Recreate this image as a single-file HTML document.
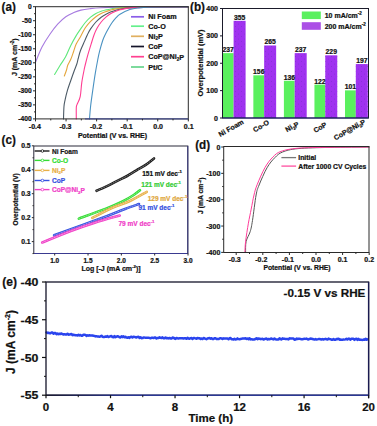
<!DOCTYPE html>
<html><head><meta charset="utf-8"><style>
html,body{margin:0;padding:0;background:#fff;}
svg{display:block;font-family:"Liberation Sans", sans-serif;}
</style></head><body>
<svg width="377" height="426" viewBox="0 0 377 426">
<rect width="377" height="426" fill="#fff"/>
<path d="M35.60,62.00 C36.67,59.50 39.62,51.63 42.00,47.00 C44.38,42.37 47.25,38.05 49.90,34.20 C52.55,30.35 55.25,26.82 57.90,23.90 C60.55,20.98 63.15,18.58 65.80,16.70 C68.45,14.82 71.27,13.70 73.80,12.60 C76.33,11.50 78.30,10.75 81.00,10.10 C83.70,9.45 86.67,9.10 90.00,8.70 C93.33,8.30 96.00,7.97 101.00,7.70 C106.00,7.43 111.83,7.23 120.00,7.10 C128.17,6.97 138.67,6.95 150.00,6.90 C161.33,6.85 181.67,6.82 188.00,6.80" fill="none" stroke="#a77be0" stroke-width="1.1" stroke-linejoin="round" stroke-linecap="round"/>
<path d="M54.60,74.50 C55.55,72.92 58.47,67.95 60.30,65.00 C62.13,62.05 63.83,60.10 65.60,56.80 C67.37,53.50 69.13,48.73 70.90,45.20 C72.67,41.67 74.68,38.15 76.20,35.60 C77.72,33.05 78.48,32.08 80.00,29.90 C81.52,27.72 83.53,24.62 85.30,22.50 C87.07,20.38 88.83,18.70 90.60,17.20 C92.37,15.70 94.13,14.50 95.90,13.50 C97.67,12.50 99.43,11.82 101.20,11.20 C102.97,10.58 104.73,10.22 106.50,9.80 C108.27,9.38 109.55,9.05 111.80,8.70 C114.05,8.35 116.13,7.97 120.00,7.70 C123.87,7.43 123.67,7.23 135.00,7.10 C146.33,6.97 179.17,6.93 188.00,6.90" fill="none" stroke="#5ee87a" stroke-width="1.1" stroke-linejoin="round" stroke-linecap="round"/>
<path d="M64.30,76.00 C64.67,75.00 65.92,71.83 66.50,70.00 C67.08,68.17 67.07,66.83 67.80,65.00 C68.53,63.17 69.93,61.25 70.90,59.00 C71.87,56.75 72.72,53.98 73.60,51.50 C74.48,49.02 75.05,46.57 76.20,44.10 C77.35,41.63 78.98,39.42 80.50,36.70 C82.02,33.98 83.62,30.35 85.30,27.80 C86.98,25.25 88.83,23.25 90.60,21.40 C92.37,19.55 94.13,18.02 95.90,16.70 C97.67,15.38 99.43,14.38 101.20,13.50 C102.97,12.62 104.73,12.02 106.50,11.40 C108.27,10.78 109.55,10.33 111.80,9.80 C114.05,9.27 115.30,8.63 120.00,8.20 C124.70,7.77 128.67,7.42 140.00,7.20 C151.33,6.98 180.00,6.95 188.00,6.90" fill="none" stroke="#e4a53a" stroke-width="1.1" stroke-linejoin="round" stroke-linecap="round"/>
<path d="M63.50,119.00 C63.58,116.87 63.73,109.40 64.00,106.20 C64.27,103.00 64.52,102.47 65.10,99.80 C65.68,97.13 66.57,93.38 67.50,90.20 C68.43,87.02 69.53,84.07 70.70,80.70 C71.87,77.33 73.48,72.78 74.50,70.00 C75.52,67.22 76.18,65.92 76.80,64.00 C77.42,62.08 77.58,60.75 78.20,58.50 C78.82,56.25 79.42,53.43 80.50,50.50 C81.58,47.57 83.55,43.53 84.70,40.90 C85.85,38.27 86.42,36.70 87.40,34.70 C88.38,32.70 89.18,31.02 90.60,28.90 C92.02,26.78 94.13,23.95 95.90,22.00 C97.67,20.05 99.43,18.53 101.20,17.20 C102.97,15.87 104.73,14.93 106.50,14.00 C108.27,13.07 109.55,12.40 111.80,11.60 C114.05,10.80 116.13,9.87 120.00,9.20 C123.87,8.53 123.67,7.98 135.00,7.60 C146.33,7.22 179.17,7.02 188.00,6.90" fill="none" stroke="#4c5a66" stroke-width="1.1" stroke-linejoin="round" stroke-linecap="round"/>
<path d="M76.30,119.00 C76.30,117.12 76.18,110.10 76.30,107.70 C76.42,105.30 76.35,106.45 77.00,104.60 C77.65,102.75 79.40,100.32 80.20,96.60 C81.00,92.88 81.13,86.82 81.80,82.30 C82.47,77.78 83.63,72.38 84.20,69.50 C84.77,66.62 84.58,67.47 85.20,65.00 C85.82,62.53 86.92,58.18 87.90,54.70 C88.88,51.22 90.08,47.38 91.10,44.10 C92.12,40.82 93.02,37.63 94.00,35.00 C94.98,32.37 95.80,30.47 97.00,28.30 C98.20,26.13 99.62,23.93 101.20,22.00 C102.78,20.07 104.73,18.20 106.50,16.70 C108.27,15.20 109.55,14.15 111.80,13.00 C114.05,11.85 117.00,10.65 120.00,9.80 C123.00,8.95 124.80,8.35 129.80,7.90 C134.80,7.45 140.30,7.27 150.00,7.10 C159.70,6.93 181.67,6.93 188.00,6.90" fill="none" stroke="#ff3d92" stroke-width="1.1" stroke-linejoin="round" stroke-linecap="round"/>
<path d="M89.50,119.00 C89.68,116.87 90.02,111.27 90.60,106.20 C91.18,101.13 92.20,94.18 93.00,88.60 C93.80,83.02 94.62,77.47 95.40,72.70 C96.18,67.93 97.02,63.50 97.70,60.00 C98.38,56.50 98.67,54.95 99.50,51.70 C100.33,48.45 101.70,43.45 102.70,40.50 C103.70,37.55 104.52,36.05 105.50,34.00 C106.48,31.95 107.55,30.03 108.60,28.20 C109.65,26.37 110.55,24.75 111.80,23.00 C113.05,21.25 114.73,19.17 116.10,17.70 C117.47,16.23 117.72,15.55 120.00,14.20 C122.28,12.85 126.85,10.63 129.80,9.60 C132.75,8.57 134.33,8.40 137.70,8.00 C141.07,7.60 141.62,7.38 150.00,7.20 C158.38,7.02 181.67,6.95 188.00,6.90" fill="none" stroke="#4a92c2" stroke-width="1.1" stroke-linejoin="round" stroke-linecap="round"/>
<rect x="35.5" y="6.7" width="152.8" height="112.2" fill="none" stroke="#2a2a2a" stroke-width="1"/>
<line x1="85.00" y1="118.90" x2="188.30" y2="118.90" stroke="#4a5290" stroke-width="1.1"/>
<line x1="33.00" y1="6.70" x2="35.50" y2="6.70" stroke="#2a2a2a" stroke-width="1"/>
<text x="31.70" y="6.70" font-size="6.7" text-anchor="end" dominant-baseline="central" fill="#111" stroke="#111" stroke-width="0.22" font-weight="bold">0</text>
<line x1="34.00" y1="13.70" x2="35.50" y2="13.70" stroke="#2a2a2a" stroke-width="1"/>
<line x1="33.00" y1="20.73" x2="35.50" y2="20.73" stroke="#2a2a2a" stroke-width="1"/>
<text x="31.70" y="20.73" font-size="6.7" text-anchor="end" dominant-baseline="central" fill="#111" stroke="#111" stroke-width="0.22" font-weight="bold">-50</text>
<line x1="34.00" y1="27.73" x2="35.50" y2="27.73" stroke="#2a2a2a" stroke-width="1"/>
<line x1="33.00" y1="34.75" x2="35.50" y2="34.75" stroke="#2a2a2a" stroke-width="1"/>
<text x="31.70" y="34.75" font-size="6.7" text-anchor="end" dominant-baseline="central" fill="#111" stroke="#111" stroke-width="0.22" font-weight="bold">-100</text>
<line x1="34.00" y1="41.75" x2="35.50" y2="41.75" stroke="#2a2a2a" stroke-width="1"/>
<line x1="33.00" y1="48.78" x2="35.50" y2="48.78" stroke="#2a2a2a" stroke-width="1"/>
<text x="31.70" y="48.78" font-size="6.7" text-anchor="end" dominant-baseline="central" fill="#111" stroke="#111" stroke-width="0.22" font-weight="bold">-150</text>
<line x1="34.00" y1="55.78" x2="35.50" y2="55.78" stroke="#2a2a2a" stroke-width="1"/>
<line x1="33.00" y1="62.80" x2="35.50" y2="62.80" stroke="#2a2a2a" stroke-width="1"/>
<text x="31.70" y="62.80" font-size="6.7" text-anchor="end" dominant-baseline="central" fill="#111" stroke="#111" stroke-width="0.22" font-weight="bold">-200</text>
<line x1="34.00" y1="69.80" x2="35.50" y2="69.80" stroke="#2a2a2a" stroke-width="1"/>
<line x1="33.00" y1="76.83" x2="35.50" y2="76.83" stroke="#2a2a2a" stroke-width="1"/>
<text x="31.70" y="76.83" font-size="6.7" text-anchor="end" dominant-baseline="central" fill="#111" stroke="#111" stroke-width="0.22" font-weight="bold">-250</text>
<line x1="34.00" y1="83.83" x2="35.50" y2="83.83" stroke="#2a2a2a" stroke-width="1"/>
<line x1="33.00" y1="90.85" x2="35.50" y2="90.85" stroke="#2a2a2a" stroke-width="1"/>
<text x="31.70" y="90.85" font-size="6.7" text-anchor="end" dominant-baseline="central" fill="#111" stroke="#111" stroke-width="0.22" font-weight="bold">-300</text>
<line x1="34.00" y1="97.85" x2="35.50" y2="97.85" stroke="#2a2a2a" stroke-width="1"/>
<line x1="33.00" y1="104.88" x2="35.50" y2="104.88" stroke="#2a2a2a" stroke-width="1"/>
<text x="31.70" y="104.88" font-size="6.7" text-anchor="end" dominant-baseline="central" fill="#111" stroke="#111" stroke-width="0.22" font-weight="bold">-350</text>
<line x1="34.00" y1="111.88" x2="35.50" y2="111.88" stroke="#2a2a2a" stroke-width="1"/>
<line x1="33.00" y1="118.90" x2="35.50" y2="118.90" stroke="#2a2a2a" stroke-width="1"/>
<text x="31.70" y="118.90" font-size="6.7" text-anchor="end" dominant-baseline="central" fill="#111" stroke="#111" stroke-width="0.22" font-weight="bold">-400</text>
<line x1="35.50" y1="118.90" x2="35.50" y2="121.40" stroke="#2a2a2a" stroke-width="1"/>
<line x1="50.77" y1="118.90" x2="50.77" y2="120.40" stroke="#2a2a2a" stroke-width="1"/>
<text x="34.90" y="126.20" font-size="7" text-anchor="middle" dominant-baseline="central" fill="#111" stroke="#111" stroke-width="0.22" font-weight="bold">-0.4</text>
<line x1="66.06" y1="118.90" x2="66.06" y2="121.40" stroke="#2a2a2a" stroke-width="1"/>
<line x1="81.33" y1="118.90" x2="81.33" y2="120.40" stroke="#2a2a2a" stroke-width="1"/>
<text x="65.46" y="126.20" font-size="7" text-anchor="middle" dominant-baseline="central" fill="#111" stroke="#111" stroke-width="0.22" font-weight="bold">-0.3</text>
<line x1="96.62" y1="118.90" x2="96.62" y2="121.40" stroke="#2a2a2a" stroke-width="1"/>
<line x1="111.89" y1="118.90" x2="111.89" y2="120.40" stroke="#2a2a2a" stroke-width="1"/>
<text x="96.02" y="126.20" font-size="7" text-anchor="middle" dominant-baseline="central" fill="#111" stroke="#111" stroke-width="0.22" font-weight="bold">-0.2</text>
<line x1="127.18" y1="118.90" x2="127.18" y2="121.40" stroke="#2a2a2a" stroke-width="1"/>
<line x1="142.45" y1="118.90" x2="142.45" y2="120.40" stroke="#2a2a2a" stroke-width="1"/>
<text x="126.58" y="126.20" font-size="7" text-anchor="middle" dominant-baseline="central" fill="#111" stroke="#111" stroke-width="0.22" font-weight="bold">-0.1</text>
<line x1="157.74" y1="118.90" x2="157.74" y2="121.40" stroke="#2a2a2a" stroke-width="1"/>
<line x1="173.01" y1="118.90" x2="173.01" y2="120.40" stroke="#2a2a2a" stroke-width="1"/>
<text x="158.14" y="126.20" font-size="7" text-anchor="middle" dominant-baseline="central" fill="#111" stroke="#111" stroke-width="0.22" font-weight="bold">0.0</text>
<line x1="188.30" y1="118.90" x2="188.30" y2="121.40" stroke="#2a2a2a" stroke-width="1"/>
<text x="188.70" y="126.20" font-size="7" text-anchor="middle" dominant-baseline="central" fill="#111" stroke="#111" stroke-width="0.22" font-weight="bold">0.1</text>
<text x="112.50" y="135.00" font-size="7" text-anchor="middle" dominant-baseline="central" fill="#111" stroke="#111" stroke-width="0.22" font-weight="bold">Potential (V vs. RHE)</text>
<text transform="translate(14.0 57.3) rotate(-90)" font-size="7" text-anchor="middle" dominant-baseline="central" font-weight="bold" fill="#111" stroke="#111" stroke-width="0.22">J (mA cm<tspan font-size="4.5" dy="-2.5">-2</tspan><tspan dy="2.5">)</tspan></text>
<text transform="translate(8.70 6.30) scale(0.9 1)" font-size="13" text-anchor="middle" dominant-baseline="central" font-weight="bold" fill="#111" stroke="#111" stroke-width="0.22">(a)</text>
<line x1="131.00" y1="16.80" x2="144.00" y2="16.80" stroke="#8a5ee8" stroke-width="1.7"/>
<text x="148.20" y="16.80" font-size="7.2" text-anchor="start" dominant-baseline="central" fill="#111" stroke="#111" stroke-width="0.22" font-weight="bold">Ni Foam</text>
<line x1="131.00" y1="26.20" x2="144.00" y2="26.20" stroke="#64f08c" stroke-width="1.7"/>
<text x="148.20" y="26.20" font-size="7.2" text-anchor="start" dominant-baseline="central" fill="#111" stroke="#111" stroke-width="0.22" font-weight="bold">Co-O</text>
<line x1="131.00" y1="36.30" x2="144.00" y2="36.30" stroke="#e0b060" stroke-width="1.7"/>
<text x="148.20" y="36.30" font-size="7.2" text-anchor="start" dominant-baseline="central" fill="#111" stroke="#111" stroke-width="0.22" font-weight="bold">Ni<tspan font-size="4.5" dy="2">2</tspan><tspan dy="-2">P</tspan></text>
<line x1="131.00" y1="46.50" x2="144.00" y2="46.50" stroke="#14142a" stroke-width="1.7"/>
<text x="148.20" y="46.50" font-size="7.2" text-anchor="start" dominant-baseline="central" fill="#111" stroke="#111" stroke-width="0.22" font-weight="bold">CoP</text>
<line x1="131.00" y1="56.70" x2="144.00" y2="56.70" stroke="#ff4090" stroke-width="1.7"/>
<text x="148.20" y="56.70" font-size="7.2" text-anchor="start" dominant-baseline="central" fill="#111" stroke="#111" stroke-width="0.22" font-weight="bold">CoP@Ni<tspan font-size="4.5" dy="2">2</tspan><tspan dy="-2">P</tspan></text>
<line x1="131.00" y1="67.00" x2="144.00" y2="67.00" stroke="#66d48c" stroke-width="1.7"/>
<text x="148.20" y="67.00" font-size="7.2" text-anchor="start" dominant-baseline="central" fill="#111" stroke="#111" stroke-width="0.22" font-weight="bold">Pt/C</text>
<defs><pattern id="pd" width="6" height="5" patternUnits="userSpaceOnUse"><circle cx="1.5" cy="1.5" r="0.5" fill="#6a34b8"/><circle cx="4.5" cy="4" r="0.5" fill="#6a34b8"/></pattern></defs>
<rect x="222.80" y="53.12" width="10.8" height="64.88" fill="#5af05e"/>
<rect x="233.60" y="20.82" width="12" height="97.18" fill="#a032f0"/>
<rect x="233.60" y="20.82" width="12" height="97.18" fill="url(#pd)" opacity="0.6"/>
<text x="228.20" y="49.62" font-size="6.8" text-anchor="middle" dominant-baseline="central" fill="#111" stroke="#111" stroke-width="0.22" font-weight="bold">237</text>
<text x="239.60" y="17.02" font-size="6.8" text-anchor="middle" dominant-baseline="central" fill="#111" stroke="#111" stroke-width="0.22" font-weight="bold">355</text>
<rect x="253.35" y="75.30" width="10.8" height="42.70" fill="#5af05e"/>
<rect x="264.15" y="45.46" width="12" height="72.54" fill="#a032f0"/>
<rect x="264.15" y="45.46" width="12" height="72.54" fill="url(#pd)" opacity="0.6"/>
<text x="258.75" y="71.80" font-size="6.8" text-anchor="middle" dominant-baseline="central" fill="#111" stroke="#111" stroke-width="0.22" font-weight="bold">156</text>
<text x="270.15" y="41.66" font-size="6.8" text-anchor="middle" dominant-baseline="central" fill="#111" stroke="#111" stroke-width="0.22" font-weight="bold">265</text>
<rect x="283.90" y="80.77" width="10.8" height="37.23" fill="#5af05e"/>
<rect x="294.70" y="53.12" width="12" height="64.88" fill="#a032f0"/>
<rect x="294.70" y="53.12" width="12" height="64.88" fill="url(#pd)" opacity="0.6"/>
<text x="289.30" y="77.27" font-size="6.8" text-anchor="middle" dominant-baseline="central" fill="#111" stroke="#111" stroke-width="0.22" font-weight="bold">136</text>
<text x="300.70" y="49.32" font-size="6.8" text-anchor="middle" dominant-baseline="central" fill="#111" stroke="#111" stroke-width="0.22" font-weight="bold">237</text>
<rect x="314.45" y="84.60" width="10.8" height="33.40" fill="#5af05e"/>
<rect x="325.25" y="55.31" width="12" height="62.69" fill="#a032f0"/>
<rect x="325.25" y="55.31" width="12" height="62.69" fill="url(#pd)" opacity="0.6"/>
<text x="319.85" y="81.10" font-size="6.8" text-anchor="middle" dominant-baseline="central" fill="#111" stroke="#111" stroke-width="0.22" font-weight="bold">122</text>
<text x="331.25" y="51.51" font-size="6.8" text-anchor="middle" dominant-baseline="central" fill="#111" stroke="#111" stroke-width="0.22" font-weight="bold">229</text>
<rect x="345.00" y="90.35" width="10.8" height="27.65" fill="#5af05e"/>
<rect x="355.80" y="64.07" width="12" height="53.93" fill="#a032f0"/>
<rect x="355.80" y="64.07" width="12" height="53.93" fill="url(#pd)" opacity="0.6"/>
<text x="350.40" y="86.85" font-size="6.8" text-anchor="middle" dominant-baseline="central" fill="#111" stroke="#111" stroke-width="0.22" font-weight="bold">101</text>
<text x="361.80" y="60.27" font-size="6.8" text-anchor="middle" dominant-baseline="central" fill="#111" stroke="#111" stroke-width="0.22" font-weight="bold">197</text>
<rect x="222.5" y="8.5" width="146.0" height="109.5" fill="none" stroke="#1a1a2a" stroke-width="1"/>
<line x1="222.50" y1="118.00" x2="368.50" y2="118.00" stroke="#20207a" stroke-width="1"/>
<line x1="220.00" y1="118.00" x2="222.50" y2="118.00" stroke="#1a1a2a" stroke-width="1"/>
<text x="218.00" y="118.00" font-size="7" text-anchor="end" dominant-baseline="central" fill="#111" stroke="#111" stroke-width="0.22" font-weight="bold">0</text>
<line x1="220.00" y1="90.62" x2="222.50" y2="90.62" stroke="#1a1a2a" stroke-width="1"/>
<text x="218.00" y="90.62" font-size="7" text-anchor="end" dominant-baseline="central" fill="#111" stroke="#111" stroke-width="0.22" font-weight="bold">100</text>
<line x1="220.00" y1="63.25" x2="222.50" y2="63.25" stroke="#1a1a2a" stroke-width="1"/>
<text x="218.00" y="63.25" font-size="7" text-anchor="end" dominant-baseline="central" fill="#111" stroke="#111" stroke-width="0.22" font-weight="bold">200</text>
<line x1="220.00" y1="35.88" x2="222.50" y2="35.88" stroke="#1a1a2a" stroke-width="1"/>
<text x="218.00" y="35.88" font-size="7" text-anchor="end" dominant-baseline="central" fill="#111" stroke="#111" stroke-width="0.22" font-weight="bold">300</text>
<line x1="220.00" y1="8.50" x2="222.50" y2="8.50" stroke="#1a1a2a" stroke-width="1"/>
<text x="218.00" y="8.50" font-size="7" text-anchor="end" dominant-baseline="central" fill="#111" stroke="#111" stroke-width="0.22" font-weight="bold">400</text>
<text transform="translate(231 128) rotate(-30)" font-size="7" text-anchor="middle" dominant-baseline="central" font-weight="bold" fill="#111" stroke="#111" stroke-width="0.22">Ni Foam</text>
<text transform="translate(261 126) rotate(-30)" font-size="7" text-anchor="middle" dominant-baseline="central" font-weight="bold" fill="#111" stroke="#111" stroke-width="0.22">Co-O</text>
<text transform="translate(292 126.5) rotate(-30)" font-size="7" text-anchor="middle" dominant-baseline="central" font-weight="bold" fill="#111" stroke="#111" stroke-width="0.22">Ni<tspan font-size="4.5" dy="2">2</tspan><tspan dy="-2">P</tspan></text>
<text transform="translate(320 127.4) rotate(-30)" font-size="7" text-anchor="middle" dominant-baseline="central" font-weight="bold" fill="#111" stroke="#111" stroke-width="0.22">CoP</text>
<text transform="translate(349.5 129.5) rotate(-30)" font-size="7" text-anchor="middle" dominant-baseline="central" font-weight="bold" fill="#111" stroke="#111" stroke-width="0.22">CoP@Ni<tspan font-size="4.5" dy="2">2</tspan><tspan dy="-2">P</tspan></text>
<text transform="translate(200.9 63) rotate(-90)" font-size="7.5" text-anchor="middle" dominant-baseline="central" font-weight="bold" fill="#111" stroke="#111" stroke-width="0.22">Overpotential (mV)</text>
<text transform="translate(197.50 6.30) scale(0.9 1)" font-size="13" text-anchor="middle" dominant-baseline="central" font-weight="bold" fill="#111" stroke="#111" stroke-width="0.22">(b)</text>
<rect x="301.8" y="11.5" width="19" height="7.6" fill="#5af05e"/>
<rect x="301.8" y="22.2" width="19" height="7.6" fill="#ab4fe6"/>
<text x="324.70" y="15.50" font-size="7" text-anchor="start" dominant-baseline="central" fill="#111" stroke="#111" stroke-width="0.22" font-weight="bold">10 mA/cm<tspan font-size="4.5" dy="-2.5">-2</tspan></text>
<text x="324.70" y="26.30" font-size="7" text-anchor="start" dominant-baseline="central" fill="#111" stroke="#111" stroke-width="0.22" font-weight="bold">200 mA/cm<tspan font-size="4.5" dy="-2.5">-2</tspan></text>
<path d="M96.50,190.80 C98.52,189.88 105.05,187.00 108.60,185.30 C112.15,183.60 114.72,182.15 117.80,180.60 C120.88,179.05 124.00,177.70 127.10,176.00 C130.20,174.30 133.30,172.25 136.40,170.40 C139.50,168.55 142.77,166.90 145.70,164.90 C148.63,162.90 152.62,159.48 154.00,158.40" fill="none" stroke="#1a1a1a" stroke-width="2.6" stroke-linejoin="round" stroke-linecap="round"/>
<path d="M96.50,190.80 C98.52,189.88 105.05,187.00 108.60,185.30 C112.15,183.60 114.72,182.15 117.80,180.60 C120.88,179.05 124.00,177.70 127.10,176.00 C130.20,174.30 133.30,172.25 136.40,170.40 C139.50,168.55 142.77,166.90 145.70,164.90 C148.63,162.90 152.62,159.48 154.00,158.40" fill="none" stroke="#979797" stroke-width="0.8" stroke-linejoin="round" stroke-linecap="round" stroke-dasharray="1.2 1.4"/>
<path d="M78.80,218.60 C83.43,216.90 99.23,211.30 106.60,208.40 C113.97,205.50 118.48,203.43 123.00,201.20 C127.52,198.97 130.87,196.83 133.70,195.00 C136.53,193.17 138.95,191.00 140.00,190.20" fill="none" stroke="#33dd33" stroke-width="2.6" stroke-linejoin="round" stroke-linecap="round"/>
<path d="M78.80,218.60 C83.43,216.90 99.23,211.30 106.60,208.40 C113.97,205.50 118.48,203.43 123.00,201.20 C127.52,198.97 130.87,196.83 133.70,195.00 C136.53,193.17 138.95,191.00 140.00,190.20" fill="none" stroke="#a3efa3" stroke-width="0.8" stroke-linejoin="round" stroke-linecap="round" stroke-dasharray="1.2 1.4"/>
<path d="M92.30,217.90 C95.65,216.22 106.22,210.58 112.40,207.80 C118.58,205.02 123.67,203.87 129.40,201.20 C135.13,198.53 143.90,193.37 146.80,191.80" fill="none" stroke="#e8b048" stroke-width="2.6" stroke-linejoin="round" stroke-linecap="round"/>
<path d="M92.30,217.90 C95.65,216.22 106.22,210.58 112.40,207.80 C118.58,205.02 123.67,203.87 129.40,201.20 C135.13,198.53 143.90,193.37 146.80,191.80" fill="none" stroke="#f4dbac" stroke-width="0.8" stroke-linejoin="round" stroke-linecap="round" stroke-dasharray="1.2 1.4"/>
<path d="M54.10,235.30 C58.87,233.58 73.95,228.18 82.70,225.00 C91.45,221.82 99.55,218.87 106.60,216.20 C113.65,213.53 119.60,211.03 125.00,209.00 C130.40,206.97 136.67,204.83 139.00,204.00" fill="none" stroke="#3550e0" stroke-width="2.6" stroke-linejoin="round" stroke-linecap="round"/>
<path d="M54.10,235.30 C58.87,233.58 73.95,228.18 82.70,225.00 C91.45,221.82 99.55,218.87 106.60,216.20 C113.65,213.53 119.60,211.03 125.00,209.00 C130.40,206.97 136.67,204.83 139.00,204.00" fill="none" stroke="#a4b0f1" stroke-width="0.8" stroke-linejoin="round" stroke-linecap="round" stroke-dasharray="1.2 1.4"/>
<path d="M42.20,242.50 C46.97,240.58 62.05,234.30 70.80,231.00 C79.55,227.70 86.55,225.28 94.70,222.70 C102.85,220.12 115.53,216.70 119.70,215.50" fill="none" stroke="#f040c8" stroke-width="2.6" stroke-linejoin="round" stroke-linecap="round"/>
<path d="M42.20,242.50 C46.97,240.58 62.05,234.30 70.80,231.00 C79.55,227.70 86.55,225.28 94.70,222.70 C102.85,220.12 115.53,216.70 119.70,215.50" fill="none" stroke="#f8a9e6" stroke-width="0.8" stroke-linejoin="round" stroke-linecap="round" stroke-dasharray="1.2 1.4"/>
<rect x="33.8" y="146.0" width="154.0" height="107.5" fill="none" stroke="#2a2a3a" stroke-width="1"/>
<line x1="33.80" y1="253.50" x2="187.80" y2="253.50" stroke="#3a3a90" stroke-width="1.1"/>
<line x1="187.80" y1="146.00" x2="187.80" y2="253.50" stroke="#3a3a80" stroke-width="1.0"/>
<line x1="31.80" y1="241.60" x2="33.80" y2="241.60" stroke="#2a2a2a" stroke-width="1"/>
<line x1="32.50" y1="253.57" x2="33.80" y2="253.57" stroke="#2a2a2a" stroke-width="1"/>
<text x="30.60" y="241.60" font-size="6.8" text-anchor="end" dominant-baseline="central" fill="#111" stroke="#111" stroke-width="0.22" font-weight="bold">0.1</text>
<line x1="31.80" y1="217.65" x2="33.80" y2="217.65" stroke="#2a2a2a" stroke-width="1"/>
<line x1="32.50" y1="229.62" x2="33.80" y2="229.62" stroke="#2a2a2a" stroke-width="1"/>
<text x="30.60" y="217.65" font-size="6.8" text-anchor="end" dominant-baseline="central" fill="#111" stroke="#111" stroke-width="0.22" font-weight="bold">0.2</text>
<line x1="31.80" y1="193.70" x2="33.80" y2="193.70" stroke="#2a2a2a" stroke-width="1"/>
<line x1="32.50" y1="205.67" x2="33.80" y2="205.67" stroke="#2a2a2a" stroke-width="1"/>
<text x="30.60" y="193.70" font-size="6.8" text-anchor="end" dominant-baseline="central" fill="#111" stroke="#111" stroke-width="0.22" font-weight="bold">0.3</text>
<line x1="31.80" y1="169.75" x2="33.80" y2="169.75" stroke="#2a2a2a" stroke-width="1"/>
<line x1="32.50" y1="181.72" x2="33.80" y2="181.72" stroke="#2a2a2a" stroke-width="1"/>
<text x="30.60" y="169.75" font-size="6.8" text-anchor="end" dominant-baseline="central" fill="#111" stroke="#111" stroke-width="0.22" font-weight="bold">0.4</text>
<line x1="31.80" y1="145.80" x2="33.80" y2="145.80" stroke="#2a2a2a" stroke-width="1"/>
<line x1="32.50" y1="157.77" x2="33.80" y2="157.77" stroke="#2a2a2a" stroke-width="1"/>
<text x="30.60" y="145.80" font-size="6.8" text-anchor="end" dominant-baseline="central" fill="#111" stroke="#111" stroke-width="0.22" font-weight="bold">0.5</text>
<line x1="54.70" y1="253.50" x2="54.70" y2="255.50" stroke="#2a2a2a" stroke-width="1"/>
<text x="54.70" y="260.00" font-size="6.5" text-anchor="middle" dominant-baseline="central" fill="#111" stroke="#111" stroke-width="0.22" font-weight="bold">1.0</text>
<line x1="88.03" y1="253.50" x2="88.03" y2="255.50" stroke="#2a2a2a" stroke-width="1"/>
<text x="88.03" y="260.00" font-size="6.5" text-anchor="middle" dominant-baseline="central" fill="#111" stroke="#111" stroke-width="0.22" font-weight="bold">1.5</text>
<line x1="121.35" y1="253.50" x2="121.35" y2="255.50" stroke="#2a2a2a" stroke-width="1"/>
<text x="121.35" y="260.00" font-size="6.5" text-anchor="middle" dominant-baseline="central" fill="#111" stroke="#111" stroke-width="0.22" font-weight="bold">2.0</text>
<line x1="154.68" y1="253.50" x2="154.68" y2="255.50" stroke="#2a2a2a" stroke-width="1"/>
<text x="154.68" y="260.00" font-size="6.5" text-anchor="middle" dominant-baseline="central" fill="#111" stroke="#111" stroke-width="0.22" font-weight="bold">2.5</text>
<line x1="188.00" y1="253.50" x2="188.00" y2="255.50" stroke="#2a2a2a" stroke-width="1"/>
<text x="188.00" y="260.00" font-size="6.5" text-anchor="middle" dominant-baseline="central" fill="#111" stroke="#111" stroke-width="0.22" font-weight="bold">3.0</text>
<text x="111.00" y="268.30" font-size="7" text-anchor="middle" dominant-baseline="central" fill="#111" stroke="#111" stroke-width="0.22" font-weight="bold">Log [-J (mA cm<tspan font-size="4.3" dy="-2.3">-2</tspan><tspan dy="2.3">)]</tspan></text>
<text transform="translate(15.9 199.4) rotate(-90)" font-size="6.5" text-anchor="middle" dominant-baseline="central" font-weight="bold" fill="#111" stroke="#111" stroke-width="0.22">Overpotential (V)</text>
<text transform="translate(8.70 140.00) scale(0.9 1)" font-size="13" text-anchor="middle" dominant-baseline="central" font-weight="bold" fill="#111" stroke="#111" stroke-width="0.22">(c)</text>
<line x1="34.60" y1="151.00" x2="49.50" y2="151.00" stroke="#1a1a1a" stroke-width="1.4"/>
<circle cx="42.4" cy="151" r="1.3" fill="#fff" stroke="#1a1a1a" stroke-width="0.8"/>
<text x="51.90" y="151.00" font-size="6.6" text-anchor="start" dominant-baseline="central" fill="#1a1a1a" stroke="#1a1a1a" stroke-width="0.22" font-weight="bold">Ni Foam</text>
<line x1="34.60" y1="160.40" x2="49.50" y2="160.40" stroke="#33dd33" stroke-width="1.4"/>
<circle cx="42.4" cy="160.4" r="1.3" fill="#fff" stroke="#33dd33" stroke-width="0.8"/>
<text x="51.90" y="160.40" font-size="6.6" text-anchor="start" dominant-baseline="central" fill="#33dd33" stroke="#33dd33" stroke-width="0.22" font-weight="bold">Co-O</text>
<line x1="34.60" y1="170.40" x2="49.50" y2="170.40" stroke="#e8b048" stroke-width="1.4"/>
<circle cx="42.4" cy="170.4" r="1.3" fill="#fff" stroke="#e8b048" stroke-width="0.8"/>
<text x="51.90" y="170.40" font-size="6.6" text-anchor="start" dominant-baseline="central" fill="#e8b048" stroke="#e8b048" stroke-width="0.22" font-weight="bold">Ni<tspan font-size="4.3" dy="2">2</tspan><tspan dy="-2">P</tspan></text>
<line x1="34.60" y1="180.50" x2="49.50" y2="180.50" stroke="#3550e0" stroke-width="1.4"/>
<circle cx="42.4" cy="180.5" r="1.3" fill="#fff" stroke="#3550e0" stroke-width="0.8"/>
<text x="51.90" y="180.50" font-size="6.6" text-anchor="start" dominant-baseline="central" fill="#3550e0" stroke="#3550e0" stroke-width="0.22" font-weight="bold">CoP</text>
<line x1="34.60" y1="189.60" x2="49.50" y2="189.60" stroke="#f040c8" stroke-width="1.4"/>
<circle cx="42.4" cy="189.6" r="1.3" fill="#fff" stroke="#f040c8" stroke-width="0.8"/>
<text x="51.90" y="189.60" font-size="6.6" text-anchor="start" dominant-baseline="central" fill="#f040c8" stroke="#f040c8" stroke-width="0.22" font-weight="bold">CoP@Ni<tspan font-size="4.3" dy="2">2</tspan><tspan dy="-2">P</tspan></text>
<text x="142.20" y="173.30" font-size="6.5" text-anchor="start" dominant-baseline="central" fill="#111" stroke="#111" stroke-width="0.22" font-weight="bold">151 mV dec<tspan font-size="4.3" dy="-2.3">-1</tspan></text>
<text x="141.30" y="184.40" font-size="6.5" text-anchor="start" dominant-baseline="central" fill="#33cc33" stroke="#33cc33" stroke-width="0.22" font-weight="bold">121 mV dec<tspan font-size="4.3" dy="-2.3">-1</tspan></text>
<text x="147.70" y="198.40" font-size="6.5" text-anchor="start" dominant-baseline="central" fill="#e0a840" stroke="#e0a840" stroke-width="0.22" font-weight="bold">129 mV dec<tspan font-size="4.3" dy="-2.3">-1</tspan></text>
<text x="138.40" y="207.20" font-size="6.5" text-anchor="start" dominant-baseline="central" fill="#3550e0" stroke="#3550e0" stroke-width="0.22" font-weight="bold">91 mV dec<tspan font-size="4.3" dy="-2.3">-1</tspan></text>
<text x="118.50" y="223.70" font-size="6.5" text-anchor="start" dominant-baseline="central" fill="#f040c8" stroke="#f040c8" stroke-width="0.22" font-weight="bold">79 mV dec<tspan font-size="4.3" dy="-2.3">-1</tspan></text>
<path d="M245.60,252.50 C245.68,250.67 245.33,244.98 246.10,241.50 C246.87,238.02 249.13,235.12 250.20,231.60 C251.27,228.08 251.52,226.50 252.50,220.40 C253.48,214.30 255.00,200.90 256.10,195.00 C257.20,189.10 257.28,189.53 259.10,185.00 C260.92,180.47 264.38,172.35 267.00,167.80 C269.62,163.25 272.20,160.33 274.80,157.70 C277.40,155.07 278.73,153.52 282.60,152.00 C286.47,150.48 290.10,149.37 298.00,148.60 C305.90,147.83 318.17,147.67 330.00,147.40 C341.83,147.13 362.50,147.07 369.00,147.00" fill="none" stroke="#555" stroke-width="1.0" stroke-linejoin="round" stroke-linecap="round"/>
<path d="M244.90,252.50 C245.02,250.67 245.02,246.38 245.60,241.50 C246.18,236.62 247.47,228.60 248.40,223.20 C249.33,217.80 250.27,213.80 251.20,209.10 C252.13,204.40 253.02,199.05 254.00,195.00 C254.98,190.95 255.25,189.42 257.10,184.80 C258.95,180.18 262.45,171.95 265.10,167.30 C267.75,162.65 270.35,159.55 273.00,156.90 C275.65,154.25 276.83,152.85 281.00,151.40 C285.17,149.95 289.83,148.88 298.00,148.20 C306.17,147.52 318.17,147.50 330.00,147.30 C341.83,147.10 362.50,147.05 369.00,147.00" fill="none" stroke="#ff3d9a" stroke-width="1.0" stroke-linejoin="round" stroke-linecap="round"/>
<rect x="223.7" y="146.5" width="145.3" height="106.0" fill="none" stroke="#2a2a2a" stroke-width="1"/>
<line x1="221.20" y1="147.00" x2="223.70" y2="147.00" stroke="#2a2a2a" stroke-width="1"/>
<line x1="222.20" y1="160.17" x2="223.70" y2="160.17" stroke="#2a2a2a" stroke-width="1"/>
<text x="220.30" y="147.00" font-size="7" text-anchor="end" dominant-baseline="central" fill="#111" stroke="#111" stroke-width="0.22" font-weight="bold">0</text>
<line x1="221.20" y1="173.35" x2="223.70" y2="173.35" stroke="#2a2a2a" stroke-width="1"/>
<line x1="222.20" y1="186.52" x2="223.70" y2="186.52" stroke="#2a2a2a" stroke-width="1"/>
<text x="220.30" y="173.35" font-size="7" text-anchor="end" dominant-baseline="central" fill="#111" stroke="#111" stroke-width="0.22" font-weight="bold">-100</text>
<line x1="221.20" y1="199.70" x2="223.70" y2="199.70" stroke="#2a2a2a" stroke-width="1"/>
<line x1="222.20" y1="212.87" x2="223.70" y2="212.87" stroke="#2a2a2a" stroke-width="1"/>
<text x="220.30" y="199.70" font-size="7" text-anchor="end" dominant-baseline="central" fill="#111" stroke="#111" stroke-width="0.22" font-weight="bold">-200</text>
<line x1="221.20" y1="226.05" x2="223.70" y2="226.05" stroke="#2a2a2a" stroke-width="1"/>
<line x1="222.20" y1="239.22" x2="223.70" y2="239.22" stroke="#2a2a2a" stroke-width="1"/>
<text x="220.30" y="226.05" font-size="7" text-anchor="end" dominant-baseline="central" fill="#111" stroke="#111" stroke-width="0.22" font-weight="bold">-300</text>
<line x1="221.20" y1="252.40" x2="223.70" y2="252.40" stroke="#2a2a2a" stroke-width="1"/>
<text x="220.30" y="252.40" font-size="7" text-anchor="end" dominant-baseline="central" fill="#111" stroke="#111" stroke-width="0.22" font-weight="bold">-400</text>
<line x1="236.20" y1="252.50" x2="236.20" y2="255.00" stroke="#2a2a2a" stroke-width="1"/>
<line x1="249.50" y1="252.50" x2="249.50" y2="254.00" stroke="#2a2a2a" stroke-width="1"/>
<text x="234.70" y="259.50" font-size="7" text-anchor="middle" dominant-baseline="central" fill="#111" stroke="#111" stroke-width="0.22" font-weight="bold">-0.3</text>
<line x1="262.80" y1="252.50" x2="262.80" y2="255.00" stroke="#2a2a2a" stroke-width="1"/>
<line x1="276.10" y1="252.50" x2="276.10" y2="254.00" stroke="#2a2a2a" stroke-width="1"/>
<text x="261.30" y="259.50" font-size="7" text-anchor="middle" dominant-baseline="central" fill="#111" stroke="#111" stroke-width="0.22" font-weight="bold">-0.2</text>
<line x1="289.40" y1="252.50" x2="289.40" y2="255.00" stroke="#2a2a2a" stroke-width="1"/>
<line x1="302.70" y1="252.50" x2="302.70" y2="254.00" stroke="#2a2a2a" stroke-width="1"/>
<text x="287.90" y="259.50" font-size="7" text-anchor="middle" dominant-baseline="central" fill="#111" stroke="#111" stroke-width="0.22" font-weight="bold">-0.1</text>
<line x1="316.00" y1="252.50" x2="316.00" y2="255.00" stroke="#2a2a2a" stroke-width="1"/>
<line x1="329.30" y1="252.50" x2="329.30" y2="254.00" stroke="#2a2a2a" stroke-width="1"/>
<text x="316.00" y="259.50" font-size="7" text-anchor="middle" dominant-baseline="central" fill="#111" stroke="#111" stroke-width="0.22" font-weight="bold">0.0</text>
<line x1="342.60" y1="252.50" x2="342.60" y2="255.00" stroke="#2a2a2a" stroke-width="1"/>
<line x1="355.90" y1="252.50" x2="355.90" y2="254.00" stroke="#2a2a2a" stroke-width="1"/>
<text x="342.60" y="259.50" font-size="7" text-anchor="middle" dominant-baseline="central" fill="#111" stroke="#111" stroke-width="0.22" font-weight="bold">0.1</text>
<line x1="369.20" y1="252.50" x2="369.20" y2="255.00" stroke="#2a2a2a" stroke-width="1"/>
<text x="369.20" y="259.50" font-size="7" text-anchor="middle" dominant-baseline="central" fill="#111" stroke="#111" stroke-width="0.22" font-weight="bold">0.2</text>
<text x="297.00" y="267.80" font-size="6.8" text-anchor="middle" dominant-baseline="central" fill="#111" stroke="#111" stroke-width="0.22" font-weight="bold">Potential (V vs. RHE)</text>
<text transform="translate(200.9 195.7) rotate(-90)" font-size="6.8" text-anchor="middle" dominant-baseline="central" font-weight="bold" fill="#111" stroke="#111" stroke-width="0.22">J (mA cm<tspan font-size="4.4" dy="-2.4">-2</tspan><tspan dy="2.4">)</tspan></text>
<text transform="translate(202.60 144.50) scale(0.9 1)" font-size="13" text-anchor="middle" dominant-baseline="central" font-weight="bold" fill="#111" stroke="#111" stroke-width="0.22">(d)</text>
<line x1="281.40" y1="157.60" x2="296.10" y2="157.60" stroke="#777" stroke-width="1.3"/>
<line x1="281.40" y1="166.10" x2="296.10" y2="166.10" stroke="#ff4fa0" stroke-width="1.3"/>
<text x="298.30" y="157.60" font-size="6.8" text-anchor="start" dominant-baseline="central" fill="#111" stroke="#111" stroke-width="0.22" font-weight="bold">Initial</text>
<text x="298.30" y="166.30" font-size="6.8" text-anchor="start" dominant-baseline="central" fill="#111" stroke="#111" stroke-width="0.22" font-weight="bold">After 1000 CV Cycles</text>
<path d="M46.50,332.43 L47.50,332.93 L48.50,332.76 L49.50,333.16 L50.50,333.27 L51.50,332.55 L52.50,332.55 L53.50,333.78 L54.50,333.04 L55.50,333.08 L56.50,334.22 L57.50,333.55 L58.50,334.14 L59.50,333.71 L60.50,334.01 L61.50,333.40 L62.50,334.15 L63.50,334.55 L64.50,334.13 L65.50,334.51 L66.50,334.49 L67.50,333.71 L68.50,334.75 L69.50,334.59 L70.50,334.25 L71.50,333.92 L72.50,335.14 L73.50,334.65 L74.50,335.04 L75.50,335.32 L76.50,335.14 L77.50,335.48 L78.50,334.80 L79.50,335.42 L80.50,334.98 L81.50,335.72 L82.50,335.69 L83.50,334.65 L84.50,334.75 L85.50,334.92 L86.50,336.02 L87.50,335.33 L88.50,335.65 L89.50,335.25 L90.50,335.59 L91.50,335.47 L92.50,335.48 L93.50,335.86 L94.50,335.91 L95.50,336.41 L96.50,336.15 L97.50,336.55 L98.50,336.50 L99.50,336.74 L100.50,336.35 L101.50,335.69 L102.50,336.72 L103.50,336.91 L104.50,336.88 L105.50,336.47 L106.50,336.72 L107.50,336.07 L108.50,336.98 L109.50,336.65 L110.50,336.28 L111.50,336.00 L112.50,337.14 L113.50,337.36 L114.50,336.13 L115.50,337.16 L116.50,336.64 L117.50,336.31 L118.50,336.54 L119.50,337.24 L120.50,337.41 L121.50,336.28 L122.50,337.11 L123.50,336.35 L124.50,337.32 L125.50,336.81 L126.50,337.61 L127.50,337.78 L128.50,337.15 L129.50,337.87 L130.50,336.94 L131.50,336.64 L132.50,337.41 L133.50,336.64 L134.50,336.90 L135.50,337.23 L136.50,337.55 L137.50,336.94 L138.50,336.81 L139.50,338.00 L140.50,337.25 L141.50,338.18 L142.50,338.11 L143.50,337.41 L144.50,337.55 L145.50,337.65 L146.50,337.85 L147.50,337.80 L148.50,337.77 L149.50,337.88 L150.50,338.35 L151.50,337.77 L152.50,337.68 L153.50,338.11 L154.50,337.46 L155.50,337.57 L156.50,338.54 L157.50,337.92 L158.50,337.98 L159.50,337.25 L160.50,337.84 L161.50,338.10 L162.50,337.33 L163.50,338.19 L164.50,338.24 L165.50,337.46 L166.50,338.27 L167.50,338.07 L168.50,338.39 L169.50,337.96 L170.50,338.48 L171.50,338.54 L172.50,337.56 L173.50,337.64 L174.50,338.52 L175.50,338.95 L176.50,337.97 L177.50,338.28 L178.50,338.50 L179.50,338.14 L180.50,338.21 L181.50,338.15 L182.50,338.23 L183.50,338.56 L184.50,338.15 L185.50,338.26 L186.50,338.82 L187.50,337.79 L188.50,338.55 L189.50,338.79 L190.50,338.20 L191.50,338.09 L192.50,338.91 L193.50,338.12 L194.50,338.06 L195.50,338.41 L196.50,338.79 L197.50,337.96 L198.50,338.27 L199.50,338.30 L200.50,339.00 L201.50,338.46 L202.50,339.05 L203.50,338.09 L204.50,338.33 L205.50,338.78 L206.50,339.12 L207.50,338.51 L208.50,338.21 L209.50,338.07 L210.50,338.64 L211.50,338.18 L212.50,339.05 L213.50,339.10 L214.50,338.19 L215.50,338.33 L216.50,339.07 L217.50,338.85 L218.50,339.09 L219.50,338.45 L220.50,338.15 L221.50,338.39 L222.50,339.09 L223.50,338.37 L224.50,338.48 L225.50,338.59 L226.50,338.60 L227.50,338.59 L228.50,339.31 L229.50,338.25 L230.50,338.04 L231.50,339.36 L232.50,339.28 L233.50,339.44 L234.50,338.67 L235.50,339.40 L236.50,339.37 L237.50,338.39 L238.50,339.13 L239.50,339.27 L240.50,339.03 L241.50,338.83 L242.50,338.52 L243.50,338.59 L244.50,338.44 L245.50,338.22 L246.50,338.96 L247.50,338.54 L248.50,339.28 L249.50,338.21 L250.50,339.42 L251.50,339.13 L252.50,339.46 L253.50,339.42 L254.50,339.43 L255.50,338.99 L256.50,338.20 L257.50,339.23 L258.50,338.43 L259.50,338.62 L260.50,339.13 L261.50,338.94 L262.50,338.79 L263.50,339.53 L264.50,339.08 L265.50,338.71 L266.50,338.59 L267.50,339.44 L268.50,338.91 L269.50,339.34 L270.50,338.75 L271.50,338.53 L272.50,339.01 L273.50,339.41 L274.50,338.51 L275.50,339.39 L276.50,339.57 L277.50,339.42 L278.50,339.45 L279.50,338.31 L280.50,339.18 L281.50,339.52 L282.50,338.38 L283.50,338.70 L284.50,338.70 L285.50,339.07 L286.50,338.92 L287.50,339.00 L288.50,339.43 L289.50,338.35 L290.50,338.43 L291.50,338.54 L292.50,338.54 L293.50,338.46 L294.50,339.74 L295.50,339.57 L296.50,338.50 L297.50,339.09 L298.50,338.83 L299.50,338.84 L300.50,338.89 L301.50,339.31 L302.50,339.23 L303.50,338.92 L304.50,338.69 L305.50,338.88 L306.50,338.60 L307.50,339.21 L308.50,339.44 L309.50,338.97 L310.50,338.56 L311.50,338.70 L312.50,338.98 L313.50,339.31 L314.50,339.56 L315.50,339.00 L316.50,339.59 L317.50,339.35 L318.50,339.09 L319.50,339.01 L320.50,339.19 L321.50,339.48 L322.50,339.09 L323.50,339.48 L324.50,339.15 L325.50,338.86 L326.50,339.27 L327.50,339.49 L328.50,338.63 L329.50,339.12 L330.50,339.13 L331.50,339.77 L332.50,339.85 L333.50,339.07 L334.50,339.81 L335.50,339.66 L336.50,338.93 L337.50,339.22 L338.50,338.74 L339.50,339.71 L340.50,339.51 L341.50,339.83 L342.50,339.70 L343.50,339.53 L344.50,339.62 L345.50,339.39 L346.50,338.75 L347.50,339.43 L348.50,338.62 L349.50,338.82 L350.50,339.71 L351.50,338.69 L352.50,338.76 L353.50,338.78 L354.50,339.87 L355.50,338.90 L356.50,338.68 L357.50,339.83 L358.50,338.83 L359.50,339.84 L360.50,339.61 L361.50,339.84 L362.50,340.01 L363.50,339.49 L364.50,339.80 L365.50,338.74 L366.50,339.77 L367.50,339.41" fill="none" stroke="#2a44ee" stroke-width="2.5" stroke-linejoin="round" stroke-linecap="round"/>
<rect x="46.0" y="282.0" width="322.6" height="113.19999999999999" fill="none" stroke="#15152a" stroke-width="1.3"/>
<defs><linearGradient id="gb" x1="0" x2="1"><stop offset="0" stop-color="#15152a"/><stop offset="0.25" stop-color="#2a38a0"/><stop offset="1" stop-color="#2a38a0"/></linearGradient></defs>
<rect x="46.0" y="394.55" width="322.6" height="1.3" fill="url(#gb)"/>
<line x1="368.60" y1="282.00" x2="368.60" y2="398.20" stroke="#1a1a50" stroke-width="1.3"/>
<line x1="42.00" y1="282.00" x2="46.00" y2="282.00" stroke="#111" stroke-width="1.2"/>
<text transform="translate(38.40 282.00) scale(1.12 1)" font-size="11" text-anchor="end" dominant-baseline="central" font-weight="bold" fill="#111" stroke="#111" stroke-width="0.22">-40</text>
<line x1="42.00" y1="319.73" x2="46.00" y2="319.73" stroke="#111" stroke-width="1.2"/>
<text transform="translate(38.40 319.73) scale(1.12 1)" font-size="11" text-anchor="end" dominant-baseline="central" font-weight="bold" fill="#111" stroke="#111" stroke-width="0.22">-45</text>
<line x1="42.00" y1="357.47" x2="46.00" y2="357.47" stroke="#111" stroke-width="1.2"/>
<text transform="translate(38.40 357.47) scale(1.12 1)" font-size="11" text-anchor="end" dominant-baseline="central" font-weight="bold" fill="#111" stroke="#111" stroke-width="0.22">-50</text>
<line x1="42.00" y1="395.20" x2="46.00" y2="395.20" stroke="#111" stroke-width="1.2"/>
<text transform="translate(38.40 395.20) scale(1.12 1)" font-size="11" text-anchor="end" dominant-baseline="central" font-weight="bold" fill="#111" stroke="#111" stroke-width="0.22">-55</text>
<line x1="44.00" y1="300.87" x2="46.00" y2="300.87" stroke="#111" stroke-width="1"/>
<line x1="44.00" y1="338.60" x2="46.00" y2="338.60" stroke="#111" stroke-width="1"/>
<line x1="44.00" y1="376.33" x2="46.00" y2="376.33" stroke="#111" stroke-width="1"/>
<line x1="46.00" y1="395.20" x2="46.00" y2="398.20" stroke="#111" stroke-width="1.2"/>
<text x="46.00" y="407.20" font-size="11.5" text-anchor="middle" dominant-baseline="central" fill="#111" stroke="#111" stroke-width="0.22" font-weight="bold">0</text>
<line x1="110.52" y1="395.20" x2="110.52" y2="398.20" stroke="#111" stroke-width="1.2"/>
<text x="110.52" y="407.20" font-size="11.5" text-anchor="middle" dominant-baseline="central" fill="#111" stroke="#111" stroke-width="0.22" font-weight="bold">4</text>
<line x1="175.04" y1="395.20" x2="175.04" y2="398.20" stroke="#111" stroke-width="1.2"/>
<text x="175.04" y="407.20" font-size="11.5" text-anchor="middle" dominant-baseline="central" fill="#111" stroke="#111" stroke-width="0.22" font-weight="bold">8</text>
<line x1="239.56" y1="395.20" x2="239.56" y2="398.20" stroke="#111" stroke-width="1.2"/>
<text x="239.56" y="407.20" font-size="11.5" text-anchor="middle" dominant-baseline="central" fill="#111" stroke="#111" stroke-width="0.22" font-weight="bold">12</text>
<line x1="304.08" y1="395.20" x2="304.08" y2="398.20" stroke="#111" stroke-width="1.2"/>
<text x="304.08" y="407.20" font-size="11.5" text-anchor="middle" dominant-baseline="central" fill="#111" stroke="#111" stroke-width="0.22" font-weight="bold">16</text>
<line x1="368.60" y1="395.20" x2="368.60" y2="398.20" stroke="#111" stroke-width="1.2"/>
<text x="368.60" y="407.20" font-size="11.5" text-anchor="middle" dominant-baseline="central" fill="#111" stroke="#111" stroke-width="0.22" font-weight="bold">20</text>
<line x1="78.26" y1="395.20" x2="78.26" y2="397.20" stroke="#111" stroke-width="1"/>
<line x1="142.78" y1="395.20" x2="142.78" y2="397.20" stroke="#111" stroke-width="1"/>
<line x1="207.30" y1="395.20" x2="207.30" y2="397.20" stroke="#111" stroke-width="1"/>
<line x1="271.82" y1="395.20" x2="271.82" y2="397.20" stroke="#111" stroke-width="1"/>
<line x1="336.34" y1="395.20" x2="336.34" y2="397.20" stroke="#111" stroke-width="1"/>
<text x="210.80" y="417.90" font-size="11.5" text-anchor="middle" dominant-baseline="central" fill="#111" stroke="#111" stroke-width="0.22" font-weight="bold">Time (h)</text>
<text transform="translate(10.6 341.9) rotate(-90)" font-size="12" text-anchor="middle" dominant-baseline="central" font-weight="bold" fill="#111" stroke="#111" stroke-width="0.22">J (mA cm<tspan font-size="7.2" dy="-4">-2</tspan><tspan dy="4">)</tspan></text>
<text x="9.60" y="282.20" font-size="12" text-anchor="middle" dominant-baseline="central" fill="#111" stroke="#111" stroke-width="0.22" font-weight="bold">(e)</text>
<text x="365.40" y="292.80" font-size="11.7" text-anchor="end" dominant-baseline="central" fill="#111" stroke="#111" stroke-width="0.22" font-weight="bold">-0.15 V vs RHE</text>
</svg></body></html>
